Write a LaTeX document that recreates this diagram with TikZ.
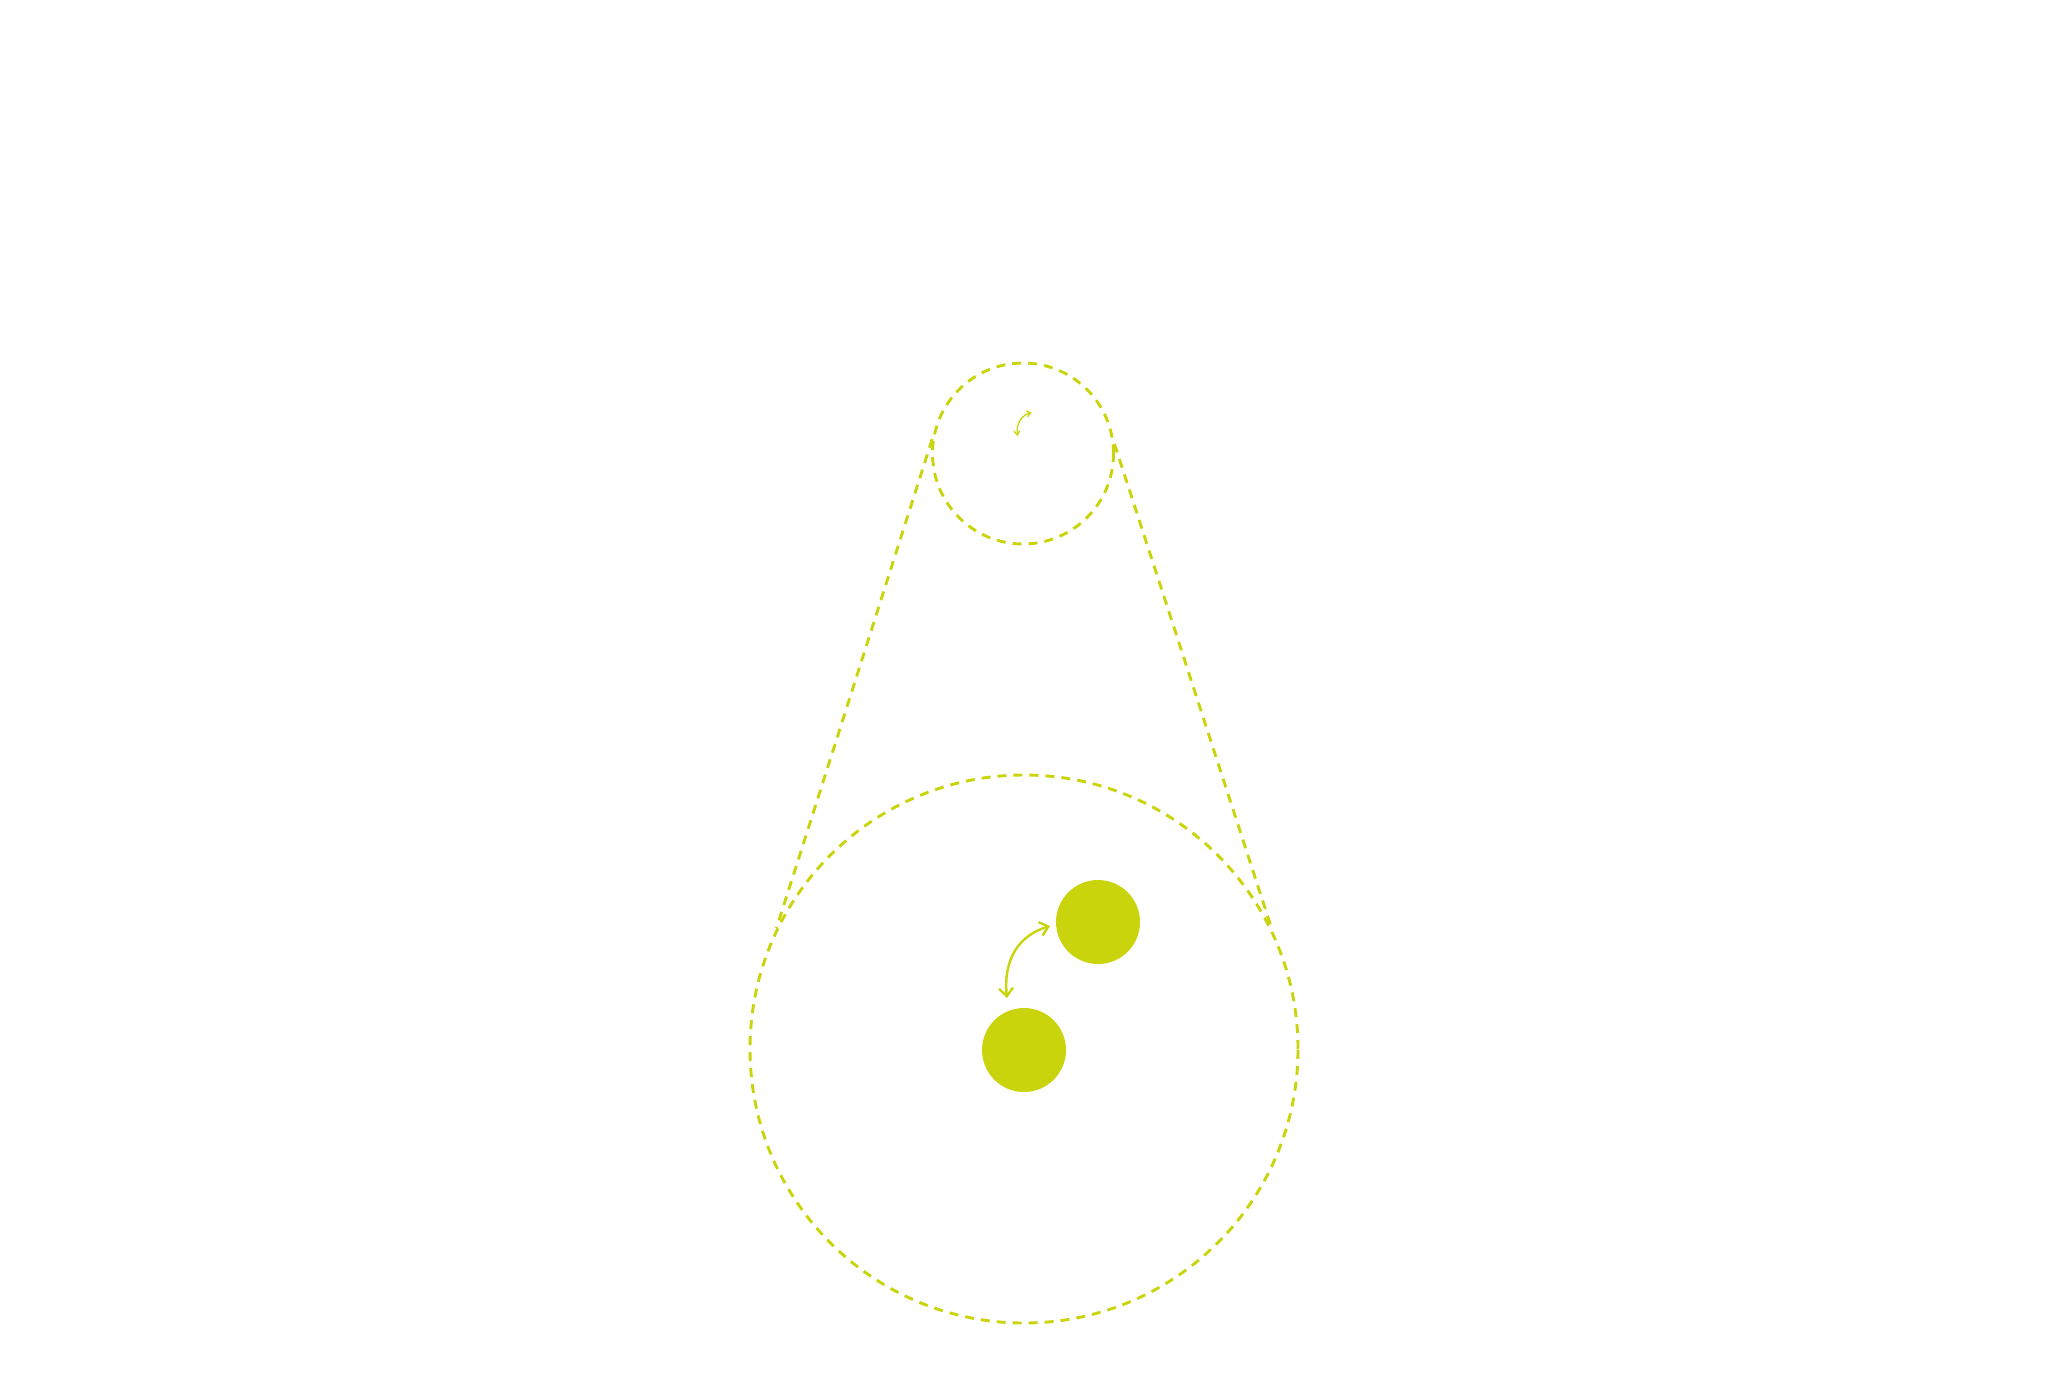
\documentclass[tikz,border=0pt]{standalone}
\usetikzlibrary{arrows.meta}
\definecolor{pulleygreen}{RGB}{201,212,12}
\tikzset{
  wheel/.style={circle, draw=pulleygreen, line width=1.45pt, dash pattern=on 4.5pt off 3.5pt, inner sep=0pt},
  belt/.style={draw=pulleygreen, line width=1.45pt, dash pattern=on 4.5pt off 3.5pt},
  mass/.style={circle, fill=pulleygreen, inner sep=0pt, minimum size=42pt},
  swap/.style={draw=pulleygreen, line width=1.2pt, {Straight Barb[length=4pt,width=7pt]}-{Straight Barb[length=4pt,width=7pt]}},
}
\begin{document}
\begin{tikzpicture}[x=0.5pt, y=-0.5pt]
  \useasboundingbox (0,0) rectangle (2048,1382);
  \node [wheel, minimum size=90.5pt] (top) at (1023,453.5) {};
  \node [wheel, minimum size=274pt] (bottom) at (1024,1049) {};
  \node [mass] (m1) at (1098,922) {};
  \node [mass] (m2) at (1024,1050) {};

  \draw [belt] (top.171) -- (bottom.154);
  \draw [belt] (top.6) -- (bottom.26);

  \coordinate (a1) at (1007,998);
  \coordinate (a2) at (1050,926);
  \draw [swap] (a1) .. controls (1003,958) and (1020,935) .. (a2);

  \coordinate (b1) at (1017.5,436);
  \coordinate (b2) at (1031.6,412.4);
  \draw [draw=pulleygreen, line width=0.65pt, {Straight Barb[length=2pt,width=3pt]}-{Straight Barb[length=2pt,width=3pt]}]
    (b1) .. controls (1016,423) and (1021.7,415.4) .. (b2);
\end{tikzpicture}
\end{document}
